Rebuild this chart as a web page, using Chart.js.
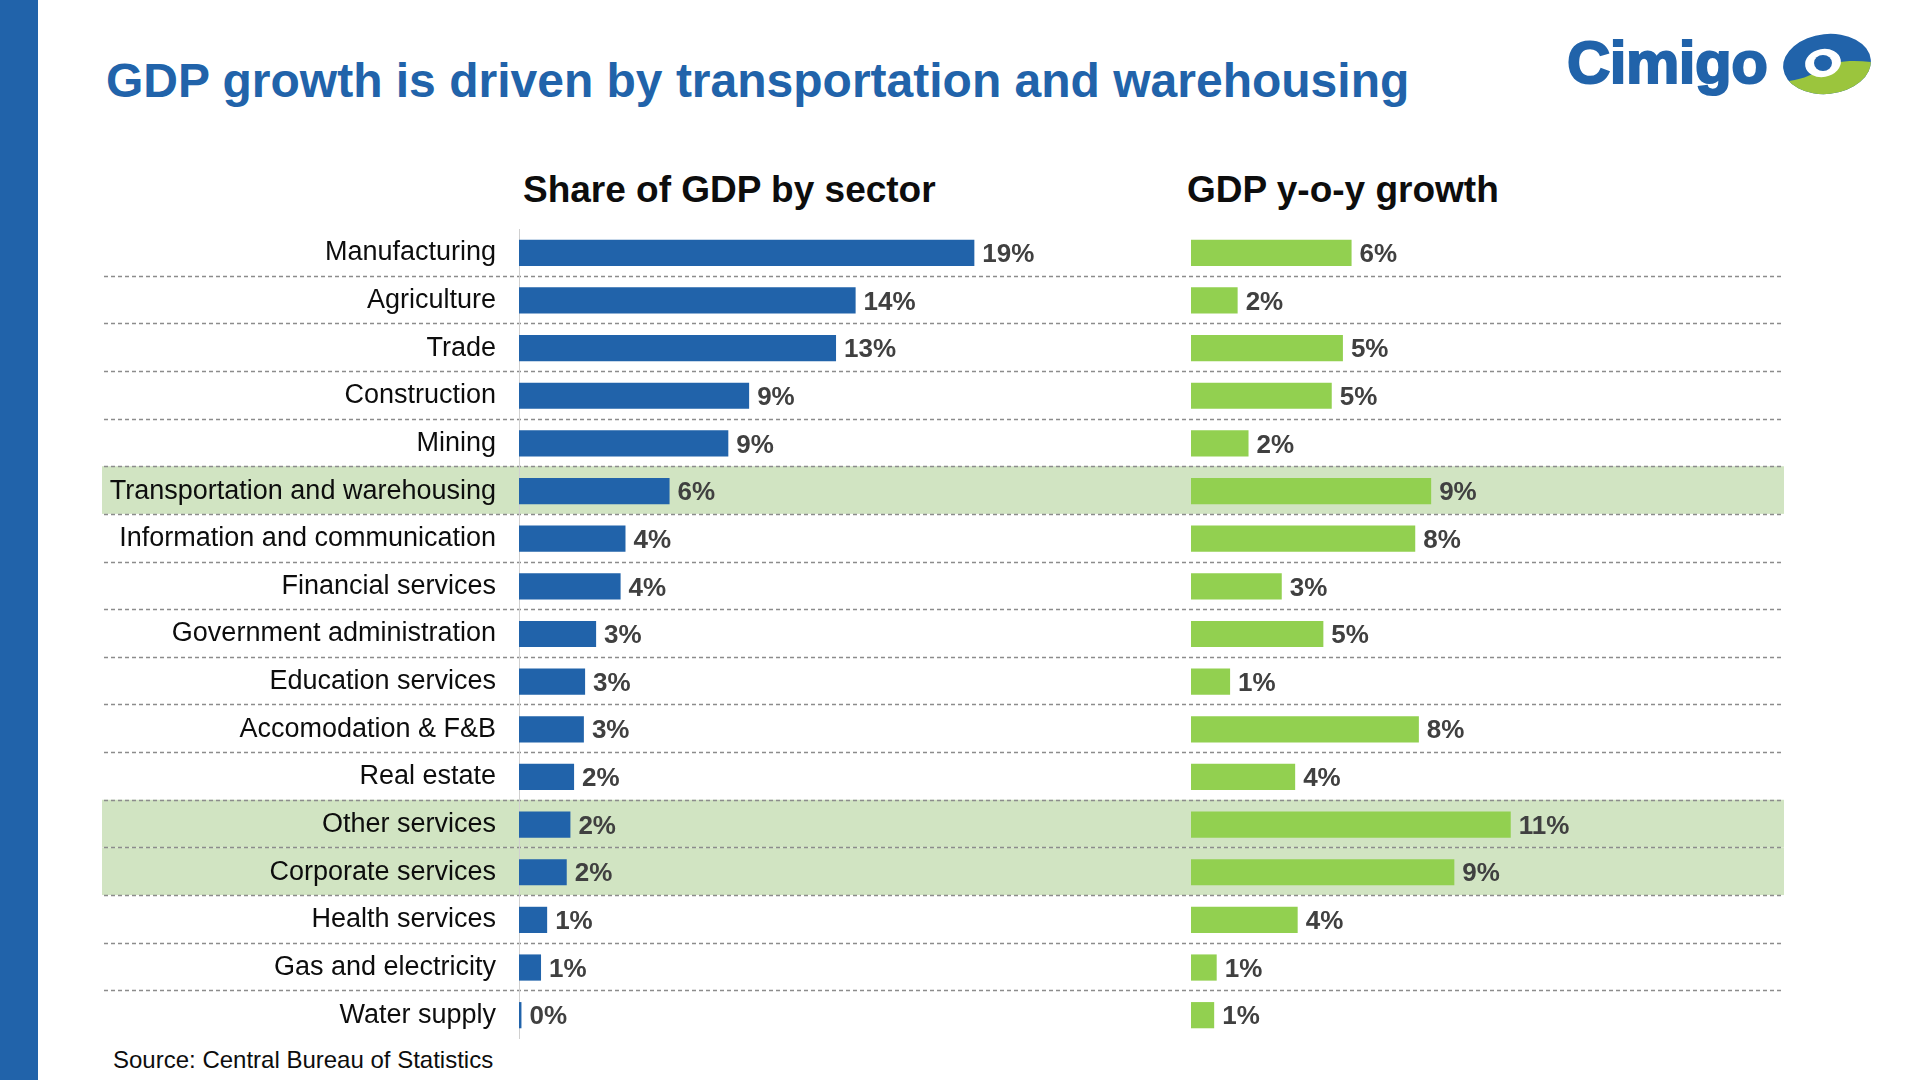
<!DOCTYPE html>
<html>
<head>
<meta charset="utf-8">
<title>GDP growth is driven by transportation and warehousing</title>
<script src="https://cdn.jsdelivr.net/npm/chart.js"></script>
<style>
body {
  margin: 0;
  width: 1920px;
  height: 1080px;
  background: #fff;
  font-family: "Liberation Sans", Arial, sans-serif;
  position: relative;
  overflow: hidden;
}
.strip { position: absolute; left: 0; top: 0; width: 38px; height: 1080px; background: #2163AA; }
.title {
  position: absolute; left: 106px; top: 57px;
  font-size: 48px; line-height: 48px; font-weight: bold;
  color: #2163AA; white-space: nowrap;
}
.head {
  position: absolute; top: 171px;
  font-size: 37px; line-height: 37px; font-weight: bold;
  color: #0d0d0d; white-space: nowrap;
}
.source {
  position: absolute; left: 113px; top: 1048px;
  font-size: 24px; line-height: 24px; color: #0d0d0d; white-space: nowrap;
}
.logo-text {
  position: absolute; left: 1567px; top: 33px;
  font-size: 60px; line-height: 60px; font-weight: bold;
  color: #2163AA; letter-spacing: -0.5px;
  -webkit-text-stroke: 2px #2163AA;
}
.logo-eye { position: absolute; left: 1782px; top: 32px; width: 90px; height: 64px; }
.box { position: absolute; top: 229px; height: 810px; }
#shareBox { left: 100px; width: 1080px; }
#growthBox { left: 1180px; width: 610px; }
</style>
</head>
<body>

<div class="strip"></div>
<div class="title">GDP growth is driven by transportation and warehousing</div>

<div class="logo-text">Cimigo</div>
<svg class="logo-eye" viewBox="0 0 90 64">
  <defs>
    <clipPath id="eyeClip"><ellipse cx="45" cy="32" rx="44" ry="30" transform="rotate(-6 45 32)"/></clipPath>
  </defs>
  <g clip-path="url(#eyeClip)">
    <rect width="90" height="64" fill="#2163AA"/>
    <path d="M0,50 C18,48 28,44 38,38 C52,28 70,28 90,30 L90,64 L0,64 Z" fill="#9BC53D"/>
  </g>
  <ellipse cx="41" cy="31" rx="18" ry="14" fill="#fff" transform="rotate(-10 41 31)"/>
  <ellipse cx="41" cy="31" rx="9" ry="8" fill="#2163AA"/>
</svg>

<div class="head" style="left:523px">Share of GDP by sector</div>
<div class="head" style="left:1187px">GDP y-o-y growth</div>

<div class="box" id="shareBox"><canvas id="shareChart"></canvas></div>
<div class="box" id="growthBox"><canvas id="growthChart"></canvas></div>

<div class="source">Source: Central Bureau of Statistics</div>

<script>
// data
const sectors = [
  "Manufacturing", "Agriculture", "Trade", "Construction", "Mining",
  "Transportation and warehousing", "Information and communication",
  "Financial services", "Government administration", "Education services",
  "Accomodation & F&B", "Real estate", "Other services", "Corporate services",
  "Health services", "Gas and electricity", "Water supply"
];
const gdpShare = [18.6, 13.75, 12.95, 9.4, 8.55, 6.15, 4.35, 4.15, 3.15, 2.7, 2.65, 2.25, 2.1, 1.95, 1.15, 0.9, 0.1];
const gdpGrowth = [5.75, 1.67, 5.44, 5.04, 2.06, 8.6, 8.03, 3.25, 4.74, 1.4, 8.16, 3.73, 11.45, 9.43, 3.82, 0.92, 0.83];
const highlighted = ["Transportation and warehousing", "Other services", "Corporate services"];

Chart.defaults.font.family = '"Liberation Sans", Arial, sans-serif';
Chart.defaults.animation = false;

// green bands + dashed row separators, drawn behind everything
const rowDecor = {
  id: 'rowDecor',
  beforeDraw(chart, args, opts) {
    const ctx = chart.ctx;
    const y = chart.scales.y;
    const half = (y.getPixelForValue(1) - y.getPixelForValue(0)) / 2;
    const right = chart.width - opts.rightGap;
    ctx.save();
    ctx.fillStyle = '#D1E4C2';
    sectors.forEach((s, i) => {
      if (highlighted.includes(s)) {
        const c = y.getPixelForValue(i);
        ctx.fillRect(opts.bandFrom, c - half - 1, right - opts.bandFrom, half * 2);
      }
    });
    ctx.strokeStyle = '#8c8c8c';
    ctx.lineWidth = 1.5;
    ctx.setLineDash([4, 3]);
    ctx.lineDashOffset = opts.dashOffset;
    for (let i = 0; i < sectors.length - 1; i++) {
      const yy = Math.round(y.getPixelForValue(i) + half) - 0.5;
      ctx.beginPath();
      ctx.moveTo(opts.dashFrom, yy);
      ctx.lineTo(right, yy);
      ctx.stroke();
    }
    ctx.restore();
  }
};

// "19%" style value labels
const valueLabels = {
  id: 'valueLabels',
  afterDatasetsDraw(chart) {
    const ctx = chart.ctx;
    const ds = chart.data.datasets[0];
    ctx.save();
    ctx.font = 'bold 26px "Liberation Sans", Arial, sans-serif';
    ctx.fillStyle = '#404040';
    ctx.textBaseline = 'middle';
    chart.getDatasetMeta(0).data.forEach((bar, i) => {
      ctx.fillText(Math.round(ds.data[i]) + '%', bar.x + 8, bar.y + 2);
    });
    ctx.restore();
  }
};

new Chart(shareChart, {
  type: 'bar',
  data: {
    labels: sectors,
    datasets: [{
      data: gdpShare,
      backgroundColor: '#2163AA',
      barPercentage: 0.55,
      categoryPercentage: 1
    }]
  },
  options: {
    indexAxis: 'y',
    responsive: true,
    maintainAspectRatio: false,
    layout: { padding: 0 },
    plugins: {
      legend: { display: false },
      tooltip: { enabled: false },
      rowDecor: { bandFrom: 2, dashFrom: 4, dashOffset: 0, rightGap: 0 }
    },
    scales: {
      x: { display: false, min: 0, max: 27 },
      y: {
        grid: { display: false, drawTicks: false },
        border: { display: true, color: '#d0d0d0', width: 1 },
        ticks: {
          autoSkip: false,
          padding: 23,
          color: '#0d0d0d',
          font: { size: 27 }
        },
        afterFit(scale) {
          scale.width = 419;
          scale.paddingTop = 0;
          scale.paddingBottom = 0;
        }
      }
    }
  },
  plugins: [rowDecor, valueLabels]
});

new Chart(growthChart, {
  type: 'bar',
  data: {
    labels: sectors,
    datasets: [{
      data: gdpGrowth,
      backgroundColor: '#92D050',
      barPercentage: 0.55,
      categoryPercentage: 1
    }]
  },
  options: {
    indexAxis: 'y',
    responsive: true,
    maintainAspectRatio: false,
    layout: { padding: { left: 11 } },
    plugins: {
      legend: { display: false },
      tooltip: { enabled: false },
      rowDecor: { bandFrom: 0, dashFrom: 0, dashOffset: 5, rightGap: 6 }
    },
    scales: {
      x: { display: false, min: 0, max: 21.45 },
      y: { display: false }
    }
  },
  plugins: [rowDecor, valueLabels]
});
</script>

</body>
</html>
